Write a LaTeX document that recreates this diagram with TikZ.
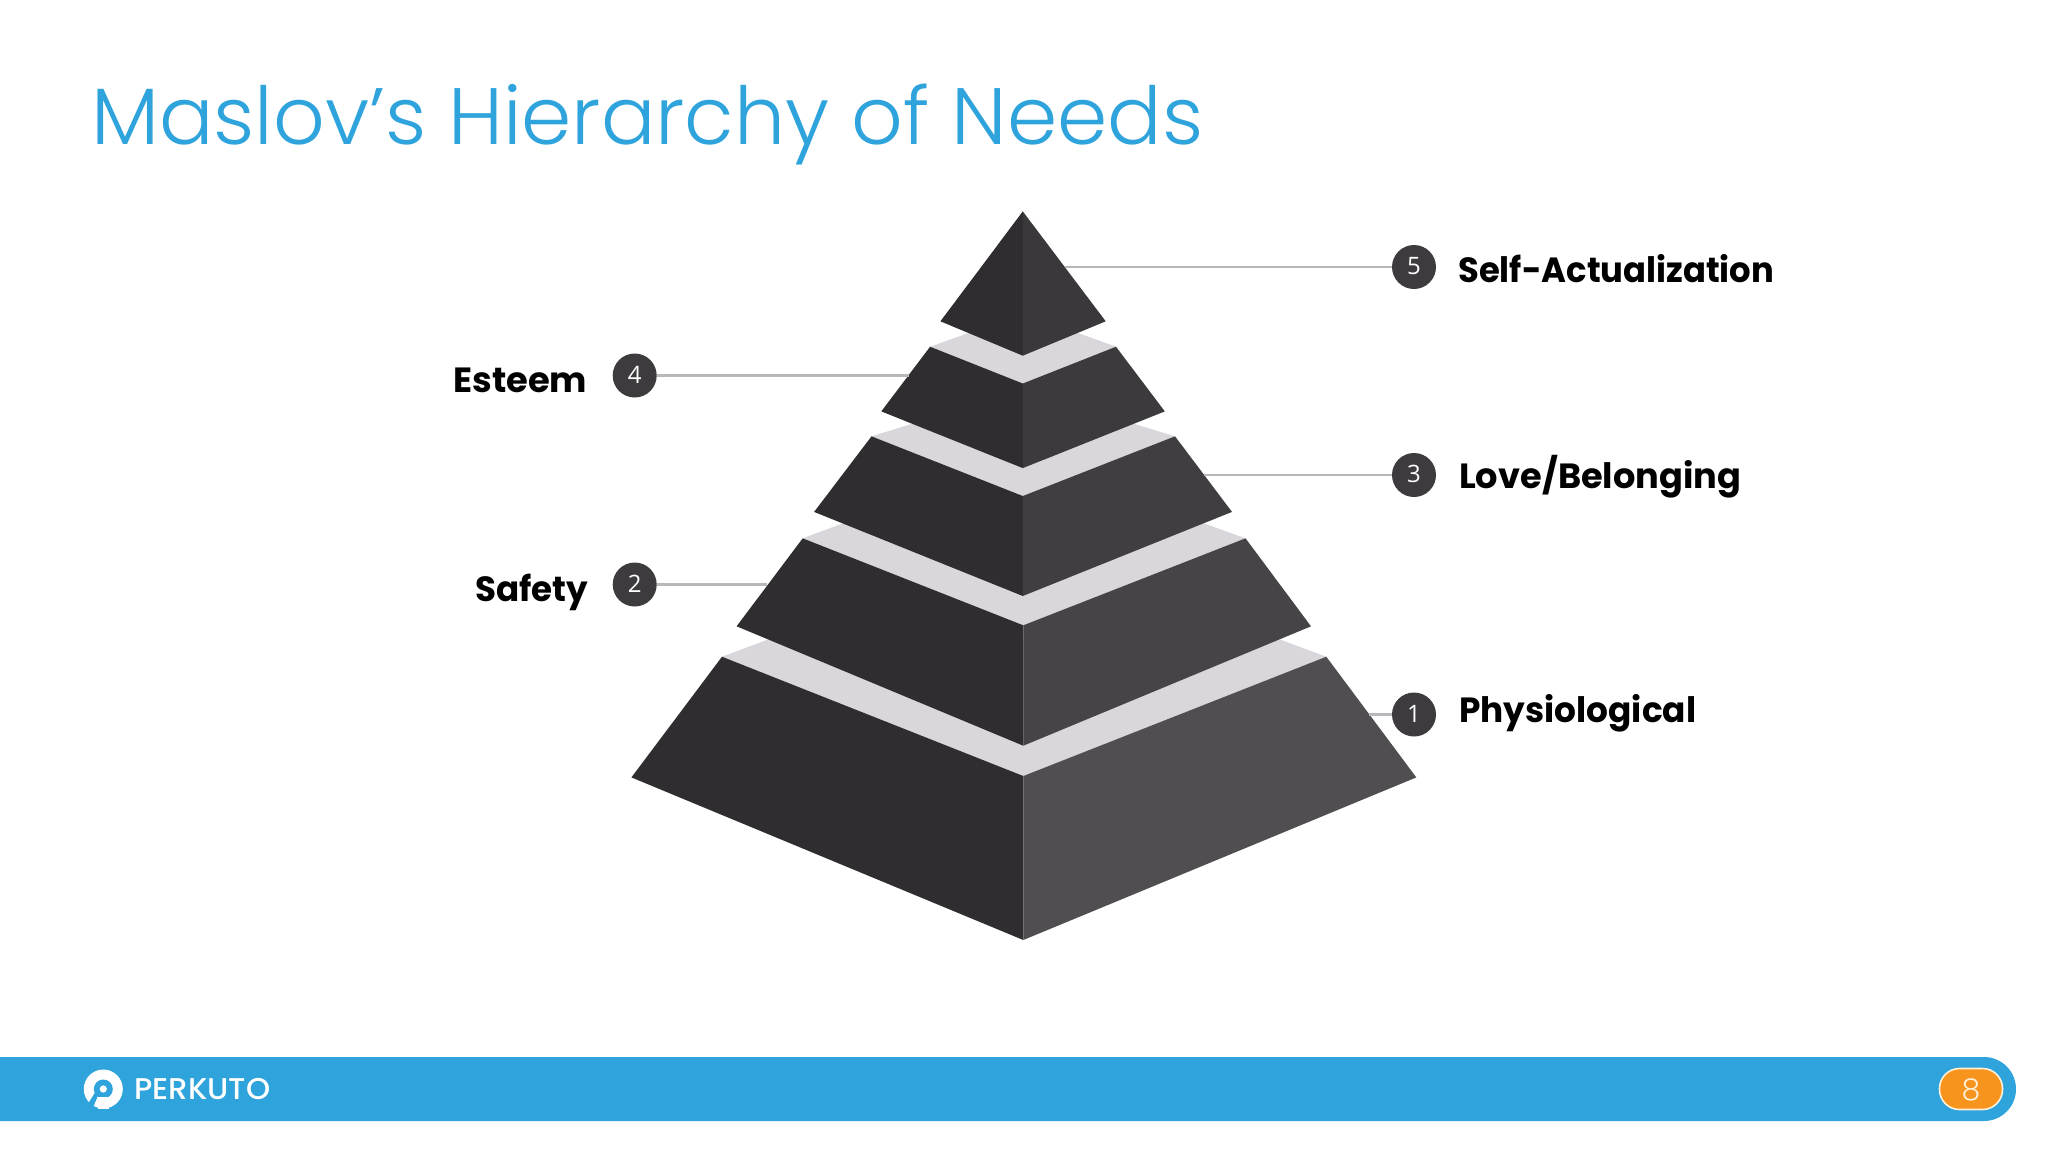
\documentclass[tikz,border=0pt]{standalone}
\usepackage{fontspec}
\setmainfont{Poppins}
\newfontfamily\titlef{Poppins Light}
\newfontfamily\labelf{Poppins Bold}
\newfontfamily\digitf{Open Sans}
\newfontfamily\logof{Poppins Medium}
\definecolor{barblue}{HTML}{2EA3DC}
\definecolor{pyrleft}{HTML}{2F2D30}
\definecolor{bandgrey}{HTML}{D9D7DB}
\definecolor{leadgrey}{HTML}{B9B7BB}
\definecolor{dotgrey}{HTML}{3D3B3E}
\definecolor{pillorange}{HTML}{F7941D}
\definecolor{pillrim}{HTML}{FFF0D8}
\definecolor{faceA}{HTML}{504E51}
\definecolor{faceB}{HTML}{464447}
\definecolor{faceC}{HTML}{403E41}
\definecolor{faceD}{HTML}{3C3A3D}
\definecolor{faceE}{HTML}{3A383B}
\newcommand{\fitw}[2]{\resizebox{#1}{\height}{#2}}
\newcommand{\digitup}[1]{\raisebox{2pt}{#1}}
\tikzset{
  x=1pt,y=-1pt,
  facel/.style={fill=pyrleft,draw=none},
  band/.style={fill=bandgrey,draw=none},
  numdot/.style={circle,fill=dotgrey,draw=none,minimum size=44pt,inner sep=0pt,text=white,font=\digitf\fontsize{24}{24}\selectfont},
  lab/.style={anchor=base west,inner sep=0pt,text=black,font=\labelf\fontsize{35}{35}\selectfont},
  lead/.style={draw=leadgrey,line width=2.2pt}
}
\begin{document}
\begin{tikzpicture}
\useasboundingbox (0,0) rectangle (2048,1152);
% title
\node[anchor=base west,inner sep=0pt,text=barblue,font=\titlef\fontsize{80}{80}\selectfont] (title) at (91,144) {\fitw{1112pt}{Maslov’s Hierarchy of Needs}};
% bar
\fill[barblue] (0,1057) -- (1984,1057) arc[start angle=-90,end angle=90,radius=32] -- (0,1121) -- cycle;
% logo
\fill[white] (103.3,1089) circle[radius=19.5];
\fill[barblue] (103.3,1089) circle[radius=9.5];
\fill[white] (103.3,1089) circle[radius=3.6];
\fill[white] (97.5,1097) rectangle (109,1108.5);
\fill[barblue] (94.8,1093) -- (98,1095.5) -- (93,1107.5) -- (87.5,1104.5) -- cycle;
\node[anchor=base west,inner sep=0pt,text=white,font=\logof\fontsize{30}{30}\selectfont] (brand) at (134,1099) {\fitw{136pt}{PERKUTO}};
% page pill
\node[rounded corners=20pt,fill=pillorange,draw=pillrim,line width=1.6pt,minimum width=63pt,minimum height=41pt,inner sep=0pt] (pill) at (1971,1089) {};
\node[inner sep=0pt,text=pillrim,font=\titlef\fontsize{30}{30}\selectfont] (pagenum) at (1971,1090) {8};
% bottom tier
\fill[band] (722,656.7) -- (768,639.5) -- (1280,639.5) -- (1326.3,656.7) -- (1023.3,776) -- cycle;
\fill[facel] (722,656.7) -- (1023.3,776) -- (1023.3,940) -- (631.4,777.4) -- cycle;
\fill[faceA] (1326.3,656.7) -- (1023.3,776) -- (1023.3,940) -- (1416.3,777.4) -- cycle;
% tier 2
\fill[band] (802.7,538.3) -- (842.8,523.3) -- (1204,523.3) -- (1245.5,538.3) -- (1023.3,625.3) -- cycle;
\fill[facel] (802.7,538.3) -- (1023.3,625.3) -- (1023.3,745.7) -- (736.6,626.3) -- cycle;
\fill[faceB] (1245.5,538.3) -- (1023.3,625.3) -- (1023.3,745.7) -- (1311,626.3) -- cycle;
% tier 3
\fill[band] (871.5,436.3) -- (912,423.8) -- (1134,423.8) -- (1175,436.3) -- (1022.8,496) -- cycle;
\fill[facel] (871.5,436.3) -- (1022.8,496) -- (1022.8,596) -- (814.1,511.9) -- cycle;
\fill[faceC] (1175,436.3) -- (1022.8,496) -- (1022.8,596) -- (1232,511.9) -- cycle;
% tier 4
\fill[band] (930.1,346.7) -- (968.6,333) -- (1078,333) -- (1116,346.7) -- (1022.8,383.5) -- cycle;
\fill[facel] (930.1,346.7) -- (1022.8,383.5) -- (1022.8,468.1) -- (881.3,411.4) -- cycle;
\fill[faceD] (1116,346.7) -- (1022.8,383.5) -- (1022.8,468.1) -- (1164.8,411.4) -- cycle;
% apex
\fill[facel] (1022.8,211.4) -- (1022.8,355.7) -- (940.4,321.3) -- cycle;
\fill[faceE] (1022.8,211.4) -- (1022.8,355.7) -- (1105.7,321.3) -- cycle;
% callouts
\node[numdot] (n5) at (1414,267) {\digitup{5}};
\node[numdot] (n4) at (634.7,375.5) {\digitup{4}};
\node[numdot] (n3) at (1414,475) {\digitup{3}};
\node[numdot] (n2) at (634.7,584.5) {\digitup{2}};
\node[numdot] (n1) at (1414,714.5) {\digitup{1}};
\coordinate (e5) at (1065,267);
\coordinate (e4) at (909,375.5);
\coordinate (e3) at (1204,475);
\coordinate (e2) at (767,584.5);
\coordinate (e1) at (1369,714.5);
\draw[lead] (n5) -- (e5);
\draw[lead] (n4) -- (e4);
\draw[lead] (n3) -- (e3);
\draw[lead] (n2) -- (e2);
\draw[lead] (n1) -- (e1);
\node[lab] (l5) at (1458,282.5) {\fitw{316pt}{Self-Actualization}};
\node[lab] (l3) at (1459,488.5) {\fitw{282pt}{Love/Belonging}};
\node[lab] (l1) at (1459,722) {\fitw{237pt}{Physiological}};
\node[lab] (l4) at (453,392) {\fitw{134pt}{Esteem}};
\node[lab] (l2) at (475,601) {\fitw{113pt}{Safety}};
\end{tikzpicture}
\end{document}
